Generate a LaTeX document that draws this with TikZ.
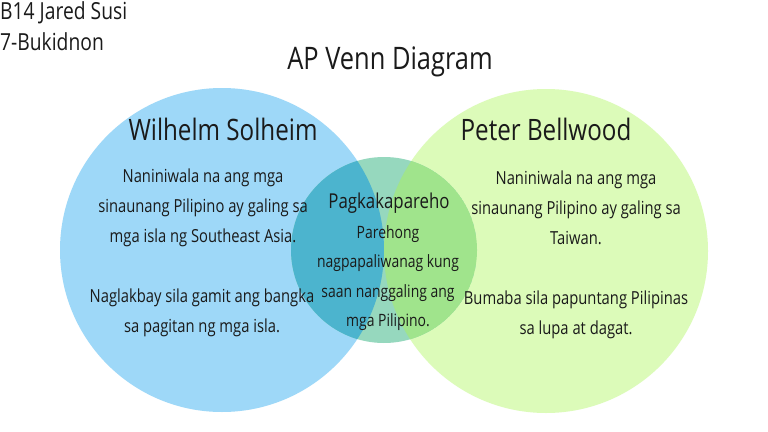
\documentclass[tikz,border=0pt]{standalone}
\usepackage{fontspec}
\setmainfont[FakeStretch=0.82]{Open Sans}
\definecolor{bluec}{HTML}{9ED8F8}
\definecolor{greenc}{HTML}{DCFBB9}
\definecolor{mintc}{HTML}{96D8BE}
\definecolor{tealc}{HTML}{4CB4CE}
\definecolor{gmidc}{HTML}{A0E48C}
\definecolor{inkc}{HTML}{1A1A1A}
\tikzset{
  txt/.style={text=inkc, align=center, inner sep=0pt},
  body/.style={txt, font=\fontsize{18}{30}\selectfont},
  head/.style={txt, font=\fontsize{29.5}{34}\selectfont},
}
\begin{document}
\begin{tikzpicture}[x=1pt,y=-1pt]
\useasboundingbox (0,0) rectangle (768,431);
\fill[white] (0,0) rectangle (768,431);
% circles
\fill[bluec] (222,250) circle[radius=162pt];
\fill[greenc] (546,251) circle[radius=162pt];
\begin{scope}
  \clip (384,250) circle[radius=93pt];
  \fill[mintc] (384,250) circle[radius=93pt];
  \fill[tealc] (222,250) circle[radius=162pt];
  \fill[gmidc] (546,251) circle[radius=162pt];
\end{scope}
% corner text
\node[txt, anchor=west, font=\fontsize{23.5}{28}\selectfont] (author1) at (0,13) {B14 Jared Susi};
\node[txt, anchor=west, font=\fontsize{23.5}{28}\selectfont] (author2) at (0,42) {7-Bukidnon};
% title
\node[txt, font=\fontsize{31}{36}\selectfont] (title) at (390,62) {AP Venn Diagram};
% headings
\node[head] (lhead) at (223,129) {Wilhelm Solheim};
\node[head] (rhead) at (546,129) {Peter Bellwood};
\node[txt, font=\fontsize{20.5}{24}\selectfont] (mhead) at (389,203) {Pagkakapareho};
% left body
\node[body] (l1) at (203,208) {Naniniwala na ang mga\\sinaunang Pilipino ay galing sa\\mga isla ng Southeast Asia.};
\node[body] (l2) at (202,313) {Naglakbay sila gamit ang bangka\\sa pagitan ng mga isla.};
% right body
\node[body] (r1) at (576,208) {Naniniwala na ang mga\\sinaunang Pilipino ay galing sa\\Taiwan.};
\node[body] (r2) at (576,315) {Bumaba sila papuntang Pilipinas\\sa lupa at dagat.};
% middle body
\node[body, font=\fontsize{17}{29.5}\selectfont] (m1) at (388,278) {Parehong\\nagpapaliwanag kung\\saan nanggaling ang\\mga Pilipino.};
\end{tikzpicture}
\end{document}
